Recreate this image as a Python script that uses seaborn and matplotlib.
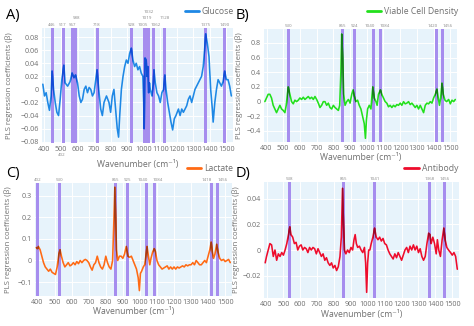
import numpy as np
import pandas as pd
import matplotlib
matplotlib.use("Agg")
import matplotlib.pyplot as plt
import matplotlib.transforms as mtransforms
from matplotlib.path import Path
from matplotlib.patches import PathPatch
import seaborn as sns

# ---------------- data ----------------
glucose_x = [390, 400, 410, 420, 430, 440, 446, 455, 465, 475, 485, 495, 505, 517, 525, 540, 555, 567, 578, 588,
             600, 610, 620, 630, 640, 650, 660, 670, 680, 690, 700, 710, 718, 728, 740, 750, 760, 775, 790, 800,
             810, 820, 830, 840, 848, 855, 865, 875, 885, 895, 905, 915, 925, 935, 945, 955, 965, 975, 985, 995,
             1000, 1003, 1008, 1015, 1020, 1025, 1030, 1035, 1040, 1050, 1058, 1062, 1070, 1080, 1090, 1100, 1110,
             1120, 1128, 1135, 1145, 1155, 1165, 1175, 1185, 1195, 1210, 1220, 1230, 1240, 1250, 1260, 1270, 1280,
             1290, 1300, 1310, 1320, 1330, 1340, 1350, 1360, 1368, 1375, 1385, 1395, 1405, 1415, 1420, 1430, 1440,
             1450, 1460, 1470, 1480, 1490, 1500, 1510, 1520, 1530]
glucose_y = [0.008, -0.01, -0.005, -0.02, -0.032, -0.01, 0.028, 0.0, -0.02, -0.035, -0.04, -0.015, 0.015, 0.037, 0.01,
             0.005, 0.012, 0.025, 0.018, 0.022, 0.01, -0.01, -0.02, -0.015, 0.0, 0.005, -0.005, 0.003, 0.0, -0.01,
             -0.005, 0.015, 0.03, 0.0, -0.03, -0.04, -0.02, -0.01, -0.02, -0.035, -0.01, 0.0, -0.03, -0.06, -0.073,
             -0.04, 0.0, 0.02, 0.035, 0.045, 0.04, 0.055, 0.063, 0.045, 0.035, 0.04, 0.03, 0.035, 0.025, 0.02,
             -0.02, -0.06, 0.048, 0.045, 0.02, 0.035, -0.005, 0.01, 0.0, -0.01, 0.008, 0.03, 0.01, -0.005, -0.01,
             -0.02, -0.005, 0.0, 0.022, 0.0, -0.02, -0.035, -0.05, -0.062, -0.045, -0.04, -0.03, -0.04, -0.03,
             -0.035, -0.03, -0.025, -0.015, -0.01, -0.02, -0.01, 0.0, 0.005, 0.01, 0.015, 0.02, 0.035, 0.06, 0.085,
             0.07, 0.05, 0.0, -0.03, -0.05, -0.02, 0.0, 0.015, 0.01, 0.005, 0.012, 0.028, 0.015, 0.015, 0.005, -0.01]

vcd_x = [390, 400, 410, 420, 430, 440, 450, 460, 470, 480, 490, 500, 510, 518, 525, 530, 540, 550, 560, 570, 580, 590,
         600, 610, 620, 630, 640, 650, 660, 670, 680, 690, 700, 710, 720, 730, 740, 750, 760, 770, 780, 790, 800, 810,
         820, 830, 838, 845, 850, 856, 862, 870, 880, 890, 900, 910, 918, 925, 935, 945, 955, 965, 975, 985, 992, 998,
         1005, 1015, 1025, 1030, 1036, 1045, 1055, 1062, 1070, 1082, 1090, 1100, 1110, 1120, 1130, 1140, 1150, 1160,
         1170, 1180, 1190, 1200, 1210, 1220, 1230, 1240, 1250, 1260, 1270, 1280, 1290, 1300, 1310, 1320, 1330, 1340,
         1350, 1360, 1370, 1380, 1390, 1400, 1410, 1420, 1428, 1435, 1442, 1450, 1458, 1468, 1478, 1490, 1500, 1510,
         1520, 1530]
vcd_y = [0.0, 0.05, 0.1, 0.1, 0.05, -0.05, -0.1, -0.15, -0.1, -0.05, -0.1, -0.12, -0.15, -0.05, 0.1, 0.2, 0.1, 0.0,
         -0.03, 0.02, 0.0, 0.02, 0.05, 0.03, 0.06, 0.03, 0.05, 0.07, 0.04, 0.06, 0.03, 0.07, 0.03, -0.02, -0.08, -0.05,
         0.0, 0.0, -0.05, -0.02, -0.08, -0.1, -0.05, -0.08, -0.1, -0.12, -0.05, 0.4, 0.92, 0.6, 0.1, -0.05, 0.0, 0.03,
         -0.02, 0.1, 0.16, 0.08, 0.0, 0.02, -0.05, -0.1, -0.2, -0.3, -0.5, -0.25, -0.1, -0.05, -0.1, 0.05, 0.2, 0.05,
         0.0, -0.05, 0.1, 0.16, 0.1, 0.05, 0.0, -0.02, -0.07, -0.05, -0.08, -0.05, -0.07, -0.04, -0.05, -0.02, -0.05,
         0.0, -0.03, -0.02, 0.0, -0.04, -0.02, -0.05, -0.08, -0.05, -0.1, -0.05, -0.1, -0.15, -0.05, -0.02, -0.03,
         0.0, -0.02, 0.05, 0.1, 0.17, 0.05, -0.05, 0.05, 0.25, 0.1, 0.02, 0.0, 0.03, -0.03, 0.02, 0.0, 0.03]

lact_x = [392, 400, 405, 415, 425, 435, 445, 455, 465, 475, 485, 495, 505, 515, 525, 532, 540, 550, 560, 570, 580, 590,
          600, 610, 620, 630, 640, 650, 660, 670, 680, 690, 700, 710, 720, 730, 740, 750, 760, 770, 780, 790, 800, 810,
          820, 830, 840, 848, 853, 858, 863, 870, 880, 890, 900, 910, 920, 930, 940, 950, 960, 970, 980, 990, 997,
          1003, 1010, 1020, 1028, 1035, 1042, 1050, 1058, 1065, 1075, 1084, 1092, 1100, 1110, 1120, 1130, 1140, 1150,
          1160, 1170, 1180, 1190, 1200, 1210, 1220, 1230, 1240, 1250, 1260, 1270, 1280, 1290, 1300, 1310, 1320, 1330,
          1340, 1350, 1360, 1370, 1380, 1390, 1400, 1410, 1418, 1425, 1432, 1440, 1450, 1458, 1468, 1478, 1490, 1500,
          1510, 1520, 1530]
lact_y = [0.06, 0.055, 0.065, 0.05, 0.02, -0.01, -0.03, -0.04, -0.05, -0.04, -0.055, -0.06, -0.065, -0.03, 0.03, 0.05,
          0.02, -0.01, -0.03, -0.02, -0.01, -0.025, -0.02, -0.01, -0.02, -0.005, -0.015, 0.0, -0.01, 0.0, 0.005, 0.0,
          -0.01, -0.03, -0.045, -0.02, -0.01, 0.02, -0.01, -0.03, -0.04, -0.02, 0.02, -0.01, -0.03, -0.04, 0.0, 0.2,
          0.34, 0.2, 0.05, 0.0, 0.02, 0.02, 0.01, 0.03, 0.065, 0.02, 0.015, 0.02, 0.0, -0.02, -0.04, -0.08, -0.14,
          -0.06, -0.05, -0.03, -0.02, 0.02, 0.065, 0.02, -0.02, 0.01, 0.04, 0.055, 0.04, 0.0, -0.02, -0.03, -0.04,
          -0.035, -0.03, -0.025, -0.04, -0.03, -0.04, -0.03, -0.04, -0.03, -0.035, -0.03, -0.025, -0.03, -0.02,
          -0.025, -0.02, -0.02, -0.01, -0.02, 0.0, -0.01, -0.02, -0.02, -0.01, 0.0, -0.01, 0.02, 0.05, 0.085, 0.04,
          0.01, 0.03, 0.075, 0.04, 0.01, 0.0, 0.005, -0.005, 0.0, 0.005, -0.01]

ab_x = [392, 400, 410, 420, 430, 440, 450, 460, 470, 480, 490, 500, 510, 520, 530, 538, 545, 555, 565, 575, 585, 595,
        605, 615, 625, 635, 645, 655, 665, 675, 685, 695, 705, 715, 725, 735, 745, 755, 765, 775, 785, 795, 805, 815,
        825, 835, 843, 850, 856, 862, 870, 880, 890, 900, 910, 918, 925, 932, 940, 950, 960, 970, 980, 987, 993, 999,
        1005, 1012, 1020, 1030, 1040, 1050, 1060, 1070, 1080, 1090, 1100, 1110, 1120, 1130, 1140, 1150, 1160, 1170,
        1180, 1190, 1200, 1210, 1220, 1230, 1240, 1250, 1260, 1270, 1280, 1290, 1300, 1310, 1320, 1330, 1340, 1350,
        1360, 1368, 1375, 1385, 1395, 1405, 1412, 1420, 1430, 1440, 1450, 1458, 1468, 1478, 1490, 1500, 1510, 1520,
        1530]
ab_y = [-0.01, -0.005, 0.0, 0.005, 0.004, -0.005, 0.0, -0.008, -0.003, -0.005, -0.002, -0.004, 0.0, 0.005, 0.012,
        0.018, 0.012, 0.01, 0.005, 0.006, 0.0, 0.003, 0.004, 0.0, 0.002, 0.001, -0.002, 0.002, 0.0, 0.002, 0.001,
        -0.003, 0.001, -0.002, -0.005, -0.003, -0.008, -0.006, -0.01, -0.012, -0.01, -0.014, -0.012, -0.016, -0.013,
        -0.005, 0.01, 0.048, 0.02, 0.0, -0.003, 0.0, -0.002, 0.002, 0.0, 0.008, 0.012, 0.005, 0.002, 0.003, 0.0,
        -0.002, 0.002, -0.01, -0.033, -0.01, 0.0, 0.0, 0.005, 0.01, 0.017, 0.01, 0.008, 0.01, 0.007, 0.009, 0.005,
        0.004, 0.0, -0.003, -0.005, -0.007, -0.003, -0.006, -0.002, -0.005, -0.008, -0.004, 0.0, 0.002, -0.002,
        0.003, 0.0, 0.004, 0.0, 0.003, -0.002, 0.001, -0.005, -0.008, -0.005, 0.005, 0.013, 0.012, 0.005, 0.01,
        0.005, -0.003, 0.008, 0.0, -0.005, 0.008, 0.017, 0.008, 0.002, 0.0, -0.002, -0.004, -0.002, -0.005, -0.015]

# highlighted wavenumbers (purple lines) and their labels
glucose_lines = [446, 517, 567, 588, 718, 928, 1005, 1019, 1032, 1062, 1128, 1375, 1490]
vcd_lines = [530, 855, 924, 1040, 1084, 1420, 1456]
lact_lines = [402, 530, 855, 925, 1040, 1084, 1418, 1456]
ab_lines = [538, 855, 1041, 1368, 1456]

x_ticks = [400, 500, 600, 700, 800, 900, 1000, 1100, 1200, 1300, 1400, 1500]
glucose_yticks = [-0.08, -0.06, -0.04, -0.02, 0, 0.02, 0.04, 0.06, 0.08]
glucose_yticklabels = ["\u22120.08", "\u22120.06", "\u22120.04", "\u22120.02", "0", "0.02", "0.04", "0.06", "0.08"]
vcd_yticks = [-0.4, -0.2, 0, 0.2, 0.4, 0.6, 0.8]
vcd_yticklabels = ["\u22120.4", "\u22120.2", "0", "0.2", "0.4", "0.6", "0.8"]
lact_yticks = [-0.1, 0, 0.1, 0.2, 0.3]
lact_yticklabels = ["\u22120.1", "0", "0.1", "0.2", "0.3"]
ab_yticks = [-0.02, 0, 0.02, 0.04]
ab_yticklabels = ["\u22120.02", "0", "0.02", "0.04"]

# ---------------- style ----------------
sns.set_theme(style="white")
plt.rcParams['font.family'] = ['Open Sans', 'DejaVu Sans']

BG = '#E7F3FB'
PURPLE = '#A68DEE'
GRAY = '#6f6f6f'
LBL = 3.2

fig = plt.figure(figsize=(4.74, 3.26), dpi=100)
W, H = 474.0, 326.0


def rect(l, r, t, b):
    return [l / W, 1 - b / H, (r - l) / W, (b - t) / H]


def multiply(c1, c2):
    a = np.array(matplotlib.colors.to_rgb(c1))
    b = np.array(matplotlib.colors.to_rgb(c2))
    return tuple(a * b)


def panel(box, xs, ys, name, color, lines, label_off, yticks, yticklabels, ylim,
          ylab_x, xlab_y, leg_anchor, letter, letter_pos):
    ax = fig.add_axes(rect(*box))
    ax.set_facecolor(BG)
    ax.set_axisbelow(True)
    for s in ax.spines.values():
        s.set_visible(False)
    df = pd.DataFrame({"Wavenumber": xs, "beta": ys})
    hw = 9
    trans = mtransforms.blended_transform_factory(ax.transData, ax.transAxes)
    for p in lines:
        ax.axvspan(p - hw, p + hw, color=PURPLE, lw=0, zorder=1.5)
    sns.lineplot(data=df, x="Wavenumber", y="beta", ax=ax, color=color, lw=1.15, zorder=2,
                 label=name, sort=False)
    # darker segments where the curve crosses the purple lines
    verts, codes = [], []
    for p in lines:
        x0, x1 = p - hw, p + hw
        verts += [(x0, 0), (x1, 0), (x1, 1), (x0, 1), (x0, 0)]
        codes += [Path.MOVETO, Path.LINETO, Path.LINETO, Path.LINETO, Path.CLOSEPOLY]
    clip = PathPatch(Path(verts, codes), transform=trans, facecolor='none', edgecolor='none')
    ax.add_patch(clip)
    sns.lineplot(data=df, x="Wavenumber", y="beta", ax=ax, color=multiply(color, PURPLE), lw=1.15,
                 zorder=3, sort=False, legend=False)
    ax.lines[-1].set_clip_path(clip)

    for p in lines:
        dx, dy = label_off.get(p, (0, 0))
        ax.annotate(str(p), xy=(p, 1), xycoords=trans, xytext=(dx, 1 + dy),
                    textcoords='offset points', ha='center', va='bottom', fontsize=LBL, color='#8a8a8a')

    ax.set_xlim(385, 1540)
    ax.set_ylim(*ylim)
    ax.set_xticks(x_ticks)
    ax.set_xticklabels([str(t) for t in x_ticks])
    ax.set_yticks(yticks)
    ax.set_yticklabels(yticklabels)
    ax.tick_params(length=0, labelsize=5.2, labelcolor=GRAY, pad=2.3)
    ax.grid(True, color='white', lw=0.7)
    ax.set_xlabel("Wavenumber (cm\u207b\u00b9)", fontsize=6.2, color=GRAY)
    ax.set_ylabel("PLS regression coefficients (\u03b2)", fontsize=5.6, color=GRAY)
    ax.yaxis.set_label_coords(ylab_x, 0.5)
    ax.xaxis.set_label_coords(0.5, xlab_y)
    leg = ax.legend(loc='upper right', bbox_to_anchor=(leg_anchor[0] / W, 1 - leg_anchor[1] / H),
                    bbox_transform=fig.transFigure, frameon=False, fontsize=6.2, handlelength=1.7,
                    handletextpad=0.3, borderpad=0, borderaxespad=0)
    for t in leg.get_texts():
        t.set_color(GRAY)
    for h in leg.get_lines():
        h.set_linewidth(2.0)
    fig.text(letter_pos[0] / W, 1 - letter_pos[1] / H, letter, fontsize=10.5, color='black',
             ha='left', va='center')
    return ax


axA = panel((42, 233, 28, 143), glucose_x, glucose_y, "Glucose", '#1E88E5', glucose_lines,
            {517: (-0.8, 0), 567: (0, 0), 588: (1, 5), 1005: (-1.5, 0), 1019: (0, 4.6), 1032: (0, 9.2),
             1062: (1.5, 0), 1128: (0, 4.6)},
            glucose_yticks, glucose_yticklabels, (-0.082, 0.094),
            -0.15, -0.15, (234, 7), "A)", (6, 15))
transA = mtransforms.blended_transform_factory(axA.transData, axA.transAxes)
axA.annotate("402", xy=(506, 0), xycoords=transA, xytext=(0, -7), textcoords='offset points',
             ha='center', va='top', fontsize=LBL, color='#8a8a8a')

close_pairs = {1040: (-2.8, 0), 1084: (2.8, 0), 1420: (-3.2, 0), 1418: (-3.2, 0), 1456: (3.2, 0)}
panel((264, 457, 29, 142), vcd_x, vcd_y, "Viable Cell Density", '#22E01C', vcd_lines, close_pairs,
      vcd_yticks, vcd_yticklabels, (-0.55, 0.99), -0.108, -0.10, (458, 7), "B)", (236, 15))
panel((35, 232, 183, 296), lact_x, lact_y, "Lactate", '#FF6A14', lact_lines, close_pairs,
      lact_yticks, lact_yticklabels, (-0.165, 0.36), -0.115, -0.10, (233, 164), "C)", (6, 173))
panel((264, 459, 182, 298), ab_x, ab_y, "Antibody", '#EE0C2C', ab_lines, {},
      ab_yticks, ab_yticklabels, (-0.0374, 0.053), -0.122, -0.10, (458, 164), "D)", (236, 173))

fig.savefig("out.png", dpi=100)
